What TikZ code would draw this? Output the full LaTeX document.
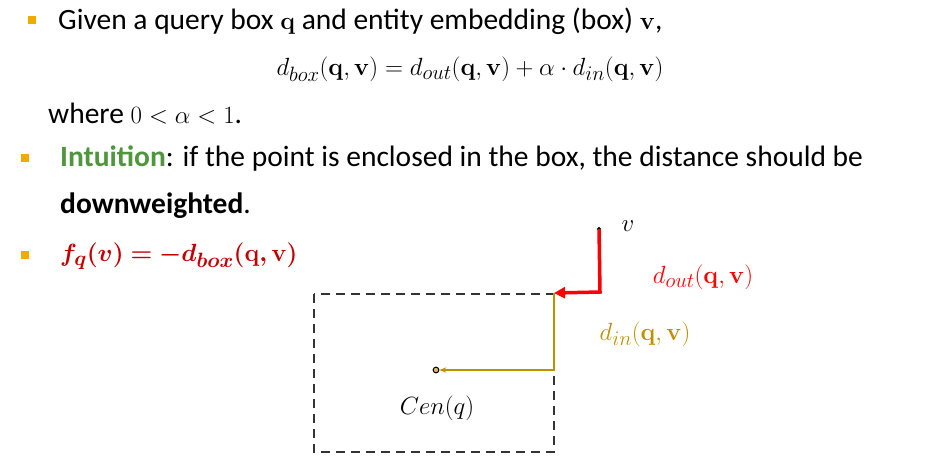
\documentclass[tikz,border=0pt]{standalone}
\usepackage{amsmath,bm}
\usepackage[no-math]{fontspec}
\setmainfont{Carlito}
\usetikzlibrary{arrows.meta}
\definecolor{bul}{RGB}{240,170,0}
\definecolor{dred}{RGB}{192,0,0}
\definecolor{gold}{RGB}{191,144,0}
\definecolor{igreen}{RGB}{80,150,60}
\definecolor{bred}{RGB}{255,0,0}
\begin{document}
\begin{tikzpicture}[x=1pt,y=-1pt,
  txt/.style={anchor=west,inner sep=0pt,font=\fontsize{29.5}{32}\selectfont},
  bsq/.style={fill=bul,minimum size=8pt,inner sep=0pt}]
\useasboundingbox (0,0) rectangle (931,461);
\node[bsq] (b1) at (32,20) {};
\node[bsq] (b2) at (25,158) {};
\node[bsq] (b3) at (25,255) {};
\node[txt] (t1) at (58,21) {Given a query box $\mathbf{q}$ and entity embedding (box) $\mathbf{v}$,};
\node[txt,anchor=center] (t2) at (470,69) {$d_{box}(\mathbf{q},\mathbf{v})=d_{out}(\mathbf{q},\mathbf{v})+\alpha\cdot d_{in}(\mathbf{q},\mathbf{v})$};
\node[txt] (t3) at (48,114) {where $0<\alpha<1$.};
\node[txt] (t4) at (60,159) {\textcolor{igreen}{\textbf{Intuition}}: if the point is enclosed in the box, the distance should be};
\node[txt] (t5) at (60,206) {\textbf{downweighted}.};
\node[txt] (t6) at (60,256) {\color{dred}$\bm{f_{q}(v)=-d_{box}(\mathbf{q},\mathbf{v})}$};
% box
\draw[line width=1.3pt,dash pattern=on 9pt off 6pt,black!80] (314,294) rectangle (554,452);
\coordinate (corner) at (554,293);
\coordinate (bend) at (554,370);
\coordinate (rbend) at (600,292);
\node[circle,draw,fill=black,inner sep=1.3pt] (v) at (599,229) {};
\node[circle,draw,line width=1pt,fill=gold!60,inner sep=2pt] (c) at (436,370) {};
\draw[bred,line width=3.5pt,-{Triangle[length=11pt,width=11pt]}] (v.center) -- (rbend) -- (corner);
\draw[gold,line width=2pt,-{Stealth[length=7pt]}] (corner) -- (bend) -- (c);
\node[txt,anchor=center] (vl) at (628,226) {$v$};
\node[txt,anchor=center,bred] (dl) at (703,277) {$d_{out}(\mathbf{q},\mathbf{v})$};
\node[txt,anchor=center,gold] (il) at (645,334) {$d_{in}(\mathbf{q},\mathbf{v})$};
\node[txt,anchor=center] (cl) at (437,408) {$Cen(q)$};
\end{tikzpicture}
\end{document}
